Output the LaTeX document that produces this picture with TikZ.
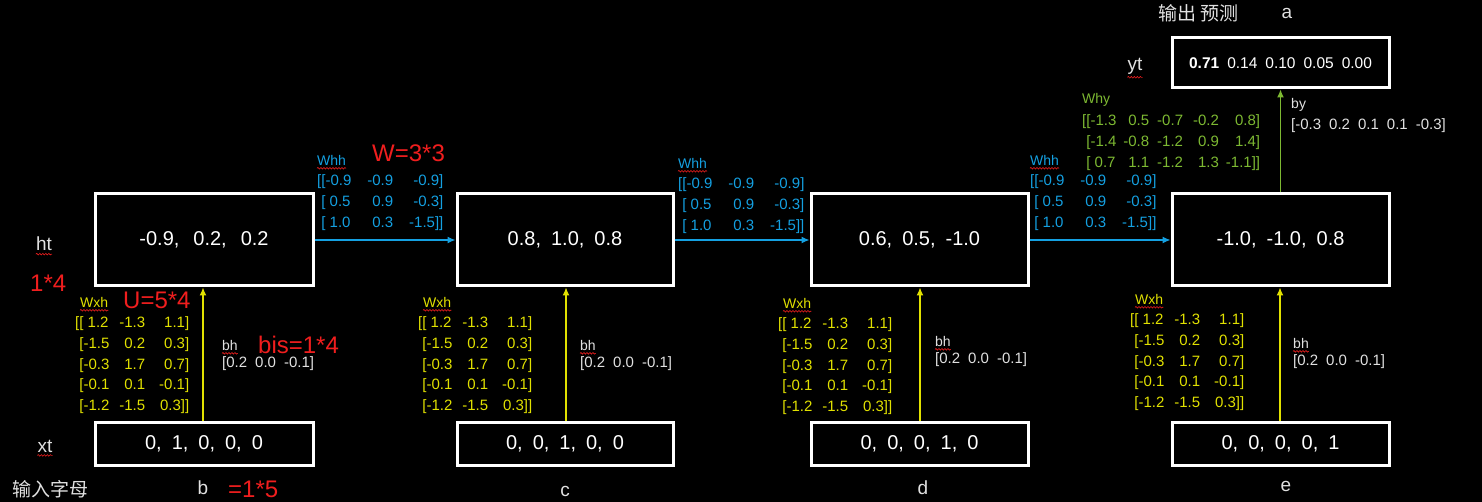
\documentclass[tikz,border=0pt]{standalone}
\usepackage{fontspec}
\setmainfont{Liberation Sans}
\newfontfamily\cjk{Noto Sans CJK SC}
\usetikzlibrary{decorations.pathmorphing}
\usetikzlibrary{arrows.meta}
\definecolor{myyel}{RGB}{225,225,0}
\definecolor{myblue}{RGB}{20,160,225}
\definecolor{mygreen}{RGB}{125,185,50}
\definecolor{myred}{RGB}{240,30,30}
\definecolor{mygray}{RGB}{225,225,225}
\tikzset{
  box/.style={draw=white,line width=3pt,fill=black,text=white,font=\fontsize{20}{22}\selectfont,inner sep=0},
  lbl/.style={text=mygray,font=\fontsize{19}{21}\selectfont,inner sep=0},
  redl/.style={text=myred,font=\fontsize{24}{26}\selectfont,inner sep=0,anchor=west},
  mat/.style={inner sep=0,anchor=north west,font=\fontsize{15}{20.7}\selectfont,align=left},
  ttl/.style={inner sep=0,anchor=west,font=\fontsize{14}{16}\selectfont},
  squig/.style={draw=myred,line width=0.6pt,decorate,decoration={snake,amplitude=0.8pt,segment length=3pt}},
  yarr/.style={draw=myyel,line width=1.2pt,-{Latex[length=8pt,width=7pt]}},
  barr/.style={draw=myblue,line width=1.2pt,-{Latex[length=8pt,width=7pt]}},
  garr/.style={draw=mygreen,line width=1.2pt,-{Latex[length=8pt,width=7pt]}},
}
\newcommand{\wxh}[3]{%
  \node[ttl,text=myyel] (#3t) at (#1-12,#2) {Wxh};
  \draw[squig] ([yshift=-3pt]#3t.south west) -- ([yshift=-3pt]#3t.south east);
  \node[mat,text=myyel] (#3m) at (#1-17,#2+11) {\begin{tabular}{@{}l@{\hspace{10pt}}r@{\hspace{14pt}}r@{}}
  [[ 1.2 & -1.3 & 1.1]\\
  \ [-1.5 & 0.2 & 0.3]\\
  \ [-0.3 & 1.7 & 0.7]\\
  \ [-0.1 & 0.1 & -0.1]\\
  \ [-1.2 & -1.5 & 0.3]]\end{tabular}};}
\newcommand{\whh}[3]{%
  \node[ttl,text=myblue] (#3t) at (#1,#2) {Whh};
  \draw[squig] ([yshift=-3pt]#3t.south west) -- ([yshift=-3pt]#3t.south east);
  \node[mat,text=myblue] (#3m) at (#1,#2+11) {\begin{tabular}{@{}l@{\hspace{16pt}}r@{\hspace{16pt}}r@{}}
  [[-0.9 & -0.9 & -0.9]\\
  \ [ 0.5 & 0.9 & -0.3]\\
  \ [ 1.0 & 0.3 & -1.5]]\end{tabular}};}
\newcommand{\bh}[3]{%
  \node[ttl,text=mygray] (#3t) at (#1,#2) {bh};
  \draw[squig] ([yshift=-3pt]#3t.south west) -- ([yshift=-3pt]#3t.south east);
  \node[mat,text=mygray,anchor=west] (#3m) at (#1,#2+19) {[0.2\hspace{8pt}0.0\hspace{8pt}-0.1]};}
\begin{document}
\begin{tikzpicture}[x=1pt,y=-1pt]
\fill[black] (0,0) rectangle (1482,502);
\useasboundingbox (0,0) rectangle (1482,502);
% boxes
\node[box,minimum width=218,minimum height=92] (h1) at (204,240) {-0.9,\hspace{14pt}0.2,\hspace{14pt}0.2};
\node[box,minimum width=216,minimum height=92] (h2) at (565,240) {0.8,\hspace{10pt}1.0,\hspace{10pt}0.8};
\node[box,minimum width=217,minimum height=92] (h3) at (919.5,240) {0.6,\hspace{10pt}0.5,\hspace{10pt}-1.0};
\node[box,minimum width=217,minimum height=92] (h4) at (1280.5,240) {-1.0,\hspace{10pt}-1.0,\hspace{10pt}0.8};
\node[box,minimum width=218,minimum height=43] (x1) at (204,443.5) {0,\hspace{10pt}1,\hspace{10pt}0,\hspace{10pt}0,\hspace{10pt}0};
\node[box,minimum width=216,minimum height=43] (x2) at (565,443.5) {0,\hspace{10pt}0,\hspace{10pt}1,\hspace{10pt}0,\hspace{10pt}0};
\node[box,minimum width=217,minimum height=43] (x3) at (919.5,443.5) {0,\hspace{10pt}0,\hspace{10pt}0,\hspace{10pt}1,\hspace{10pt}0};
\node[box,minimum width=217,minimum height=43] (x4) at (1280.5,443.5) {0,\hspace{10pt}0,\hspace{10pt}0,\hspace{10pt}0,\hspace{10pt}1};
\node[box,minimum width=217,minimum height=50,font=\fontsize{15.5}{17}\selectfont] (y) at (1280.5,63) {\textbf{0.71}\hspace{8pt}0.14\hspace{8pt}0.10\hspace{8pt}0.05\hspace{8pt}0.00};
% arrows
\draw[yarr] (x1.north -| 203,0) -- (h1.south -| 203,0);
\draw[yarr] (x2.north -| 566,0) -- (h2.south -| 566,0);
\draw[yarr] (x3.north -| 920,0) -- (h3.south -| 920,0);
\draw[yarr] (x4.north -| 1280,0) -- (h4.south -| 1280,0);
\draw[barr] (h1) -- (h2);
\draw[barr] (h2) -- (h3);
\draw[barr] (h3) -- (h4);
\draw[garr] (h4.north) -- (y.south);
% labels
\node[lbl] (ht) at (44,244) {ht};
\draw[squig] ([yshift=-3pt]ht.south west) -- ([yshift=-3pt]ht.south east);
\node[lbl] (xt) at (45,446) {xt};
\draw[squig] ([yshift=-3pt]xt.south west) -- ([yshift=-3pt]xt.south east);
\node[lbl] (yt) at (1135,66) {yt};
\draw[squig] ([yshift=-3pt]yt.south west) -- ([yshift=-3pt]yt.south east);
\node[lbl,anchor=west] (inp) at (12,489) {\cjk 输入字母};
\node[lbl,anchor=west] (outp) at (1158,13) {\cjk 输出 预测};
\node[lbl] (la) at (1287,13) {a};
\node[lbl] (lb) at (203,488) {b};
\node[lbl] (lc) at (565,491) {c};
\node[lbl] (ld) at (923,488) {d};
\node[lbl] (le) at (1286,486) {e};
\node[redl] (r1) at (30,283) {1*4};
\node[redl] (r2) at (123,300) {U=5*4};
\node[redl] (r3) at (258,345) {bis=1*4};
\node[redl] (r4) at (372,153) {W=3*3};
\node[redl] (r5) at (228,489) {=1*5};
% matrices
\wxh{92}{302}{wa}
\wxh{435}{302}{wb}
\wxh{795}{303}{wc}
\wxh{1147}{299}{wd}
\bh{222}{345}{ba}
\bh{580}{345}{bb}
\bh{935}{341}{bc}
\bh{1293}{343}{bd}
\whh{317}{160}{ha}
\whh{678}{163}{hb}
\whh{1030}{160}{hc}
\node[ttl,text=mygreen] (whyt) at (1082,100) {Why};
\node[mat,text=mygreen] (whym) at (1082,111) {\begin{tabular}{@{}l@{\hspace{7pt}}r@{\hspace{8pt}}r@{\hspace{10pt}}r@{\hspace{7pt}}r@{}}
[[-1.3 & 0.5 & -0.7 & -0.2 & 0.8]\\
\ [-1.4 & -0.8 & -1.2 & 0.9 & 1.4]\\
\ [ 0.7 & 1.1 & -1.2 & 1.3 & -1.1]]\end{tabular}};
\node[ttl,text=mygray] (byt) at (1291,105) {by};
\node[mat,text=mygray,anchor=west] (bym) at (1291,126) {[-0.3\hspace{8pt}0.2\hspace{8pt}0.1\hspace{8pt}0.1\hspace{8pt}-0.3]};
\end{tikzpicture}
\end{document}
